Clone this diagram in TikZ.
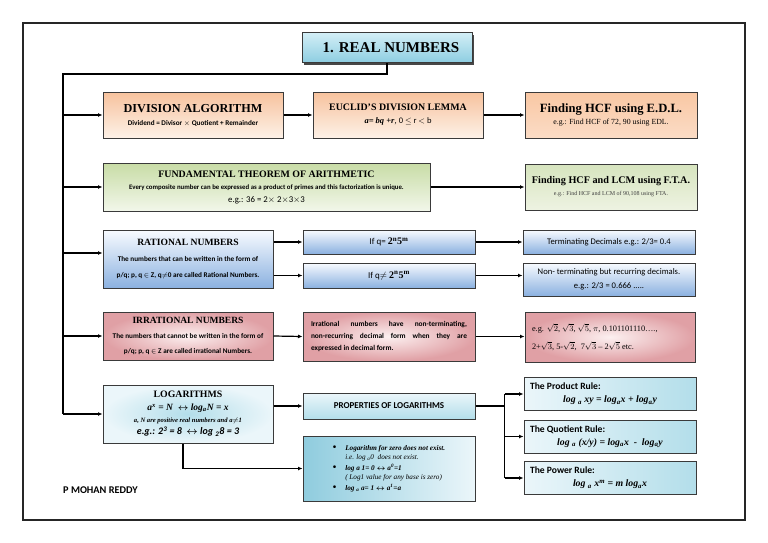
\documentclass[tikz,border=0pt]{standalone}
\usepackage{fontspec}
\setmainfont{Liberation Serif}
\newfontfamily\cb{Carlito}
\usetikzlibrary{arrows.meta,shadows,calc}
\definecolor{bord}{HTML}{3A3A3A}
\definecolor{tA}{HTML}{D2EEF6}\definecolor{tB}{HTML}{8CCDE1}
\definecolor{orA}{HTML}{F7C29D}\definecolor{orB}{HTML}{FDF1E7}
\definecolor{orC}{HTML}{F9C7A3}\definecolor{orD}{HTML}{FBDCC6}
\definecolor{grA}{HTML}{C8DCA6}\definecolor{grB}{HTML}{F2F7EA}
\definecolor{grC}{HTML}{D6E4BE}\definecolor{grD}{HTML}{EEF3E2}
\definecolor{blA}{HTML}{F8FBFF}\definecolor{blB}{HTML}{8BB1E0}
\definecolor{rdA}{HTML}{E0A0A5}\definecolor{rdB}{HTML}{FCF0F0}
\definecolor{cyA}{HTML}{EBF6FA}\definecolor{cyB}{HTML}{B3DEEA}
\definecolor{cyC}{HTML}{8FCCDE}
\newcommand\fsz[2]{\fontsize{#1}{#2}\selectfont}
\begin{document}
\begin{tikzpicture}[x=1pt,y=-1pt,
  box/.style={draw=bord,line width=1pt,inner sep=0pt,align=center},
  orbox/.style={box,top color=orA,bottom color=orB},
  grbox/.style={box,top color=grA,bottom color=grB},
  blbox/.style={box,top color=blA,bottom color=blB},
  rdbox/.style={box,inner color=rdB,outer color=rdA},
  cybox/.style={box,left color=cyA,right color=cyB},
  arr/.style={draw=black,line width=1.2pt,-{Latex[length=4.5pt,width=4pt]}},
  ln/.style={draw=black,line width=1.2pt}]
\useasboundingbox (0,0) rectangle (768,543);
\draw[line width=1.4pt,draw=black!85] (23,23) rectangle (745,520);

% title
\node[box,top color=tA,bottom color=tB,drop shadow={shadow xshift=1.6pt,shadow yshift=-1.6pt,fill=black!80,opacity=0.9},
  minimum width=170,minimum height=30] (title) at (387,48) {\bfseries\fsz{15}{18}\hspace{8pt}1. REAL NUMBERS};

% row 1
\node[orbox,minimum width=180,minimum height=46] (div) at (193,115)
 {{\bfseries\fsz{12.2}{14}DIVISION ALGORITHM}\\[1pt]{\cb\bfseries\fsz{7.2}{9}Dividend = Divisor $\times$ Quotient + Remainder}};
\node[orbox,minimum width=170,minimum height=46] (euc) at (398,115)
 {{\bfseries\fsz{9.9}{12}EUCLID'S DIVISION LEMMA}\\[1pt]{\fsz{8.5}{10}\textbf{\textit{a= bq +r}}, {\cb 0 $\le$ r $<$ b}}};
\node[box,top color=orC,bottom color=orD,minimum width=172,minimum height=46] (hcf) at (611,115)
 {{\bfseries\fsz{12.6}{15}Finding HCF using E.D.L.}\\{\fsz{7.8}{9}e.g.: Find HCF of 72, 90 using EDL.}};

% row 2
\node[grbox,minimum width=327,minimum height=48] (fta) at (266.5,187)
 {{\bfseries\fsz{9.9}{12}FUNDAMENTAL THEOREM OF ARITHMETIC}\\[0pt]{\cb\bfseries\fsz{6.8}{8}Every composite number can be expressed as a product of primes and this factorization is unique.}\\[1pt]{\cb\fsz{8.8}{10}e.g.: 36 = 2$\times$ 2$\times$3$\times$3}};
\node[box,top color=grC,bottom color=grD,minimum width=172,minimum height=46] (hcfl) at (611,187)
 {{\bfseries\fsz{10.2}{12}Finding HCF and LCM using F.T.A.}\\{\color{black!75}\fsz{6}{7}e.g.: Find HCF and LCM of 90,108 using FTA.}};

% row 3
\node[blbox,minimum width=170,minimum height=58] (rat) at (188,259)
 {{\bfseries\fsz{9.6}{12}RATIONAL NUMBERS}\\[4pt]{\cb\bfseries\fsz{7.2}{9}The numbers that can be written in the form of}\\[4pt]{\cb\bfseries\fsz{7.2}{9}p/q; p, q $\in$ Z, q$\neq$0 are called Rational Numbers.}};
\node[blbox,minimum width=172,minimum height=24] (ifa) at (389,242)
 {\cb\fsz{9}{10}If q= {\rmfamily\bfseries\fsz{10}{10}2\textsuperscript{n}5\textsuperscript{m}}};
\node[blbox,minimum width=172,minimum height=25] (ifb) at (389,275.5)
 {\cb\fsz{9}{10}If q$\neq$ {\rmfamily\bfseries\fsz{10}{10}2\textsuperscript{n}5\textsuperscript{m}}};
\node[blbox,minimum width=172,minimum height=24] (term) at (609,242)
 {\cb\fsz{8.6}{10}Terminating Decimals e.g.: 2/3= 0.4};
\node[blbox,minimum width=172,minimum height=33] (nont) at (609,279.5)
 {{\cb\fsz{8.6}{10}Non- terminating but recurring decimals.}\\[2pt]{\cb\fsz{8.6}{10}e.g.: 2/3 = 0.666 .....}};

% row 4
\node[rdbox,minimum width=170,minimum height=48] (irr) at (188,336)
 {{\bfseries\fsz{9.5}{12}IRRATIONAL NUMBERS}\\[3pt]{\cb\bfseries\fsz{7.2}{9}The numbers that cannot be written in the form of}\\[3pt]{\cb\bfseries\fsz{7.2}{9}p/q; p, q $\in$ Z are called irrational Numbers.}};
\node[rdbox,minimum width=172,minimum height=49] (desc) at (389,336.5)
 {\parbox{156pt}{\cb\bfseries\fsz{7.4}{12}Irrational numbers have non-terminating,\linebreak non-recurring decimal form when they are\linebreak expressed in decimal form.}};
\node[rdbox,minimum width=170,minimum height=50] (ex) at (610,337)
 {\parbox{156pt}{\fsz{8.3}{10}e.g. $\sqrt{2}$, $\sqrt{3}$, $\sqrt{5}$, $\pi$, 0.101101110\dots.,\\[8pt]2+$\sqrt{3}$, 5-$\sqrt{2}$,\ \ 7$\sqrt{3}$ -- 2$\sqrt{5}$ etc.}};

% row 5
\node[box,inner color=cyB,outer color=cyA,minimum width=170,minimum height=58] (log) at (188,414)
 {{\bfseries\fsz{9.8}{11}LOGARITHMS}\\[1pt]{\bfseries\itshape\fsz{9.5}{11}a\textsuperscript{x} = N \ {\boldmath$\leftrightarrow$}\ log\textsubscript{a}N = x}\\[0pt]{\bfseries\itshape\fsz{6.6}{8}a, N are positive real numbers and a$\neq$1}\\[0pt]{\cb\bfseries\itshape\fsz{10}{11}e.g.: 2\textsuperscript{3} = 8 \ {\boldmath$\leftrightarrow$} log \textsubscript{2}8 = 3}};
\node[box,top color=cyA,bottom color=cyB,minimum width=172,minimum height=26] (prop) at (389,406)
 {\cb\bfseries\fsz{9}{10}PROPERTIES OF LOGARITHMS};
\node[box,left color=cyC,right color=cyA,minimum width=172,minimum height=65,align=left] (bul) at (389,468.5)
 {\bfseries\itshape\fsz{7.2}{9}\begin{tabular}{@{}c@{\hspace{9pt}}l@{}}
 {\upshape\fsz{10}{9}\textbullet} & Logarithm for zero does not exist.\\
  & {\mdseries i.e. log \textsubscript{a}0\ \ does not exist.}\\[2pt]
 {\upshape\fsz{10}{9}\textbullet} & log a 1= 0 {\boldmath$\leftrightarrow$} a\textsuperscript{0}=1\\
  & {\mdseries ( Log1 value for any base is zero)}\\[2pt]
 {\upshape\fsz{10}{9}\textbullet} & log \textsubscript{a} a= 1 {\boldmath$\leftrightarrow$} a\textsuperscript{1}=a
 \end{tabular}};
\node[cybox,minimum width=172,minimum height=33,align=left] (prod) at (610,394)
 {\parbox{160pt}{{\cb\bfseries\fsz{9.6}{11}The Product Rule:}\\[1pt]\makebox[160pt]{\bfseries\itshape\fsz{9.8}{11}log \textsubscript{a} xy = log\textsubscript{a}x + log\textsubscript{a}y}}};
\node[cybox,minimum width=172,minimum height=33,align=left] (quo) at (610,436.5)
 {\parbox{160pt}{{\cb\bfseries\fsz{9.6}{11}The Quotient Rule:}\\[1pt]\makebox[160pt]{\bfseries\itshape\fsz{9.8}{11}log \textsubscript{a} (x/y) = log\textsubscript{a}x \ - \ log\textsubscript{a}y}}};
\node[cybox,minimum width=172,minimum height=33,align=left] (pow) at (610,478)
 {\parbox{160pt}{{\cb\bfseries\fsz{9.6}{11}The Power Rule:}\\[1pt]\makebox[160pt]{\bfseries\itshape\fsz{9.8}{11}log \textsubscript{a} x\textsuperscript{m} = m log\textsubscript{a}x}}};

\node[font=\cb\bfseries\fsz{10.3}{11},anchor=west,inner sep=0pt] (mohan) at (63,490) {P MOHAN REDDY};

% trunk
\coordinate (tk) at (63,74);
\draw[ln] (title.south) |- (tk) -- (tk |- log.west);
\draw[arr] (tk |- div.west) -- (div.west);
\draw[arr] (tk |- fta.west) -- (fta.west);
\draw[arr] ($(tk |- rat.west)+(0,-6)$) -- ($(rat.west)+(0,-6)$);
\draw[arr] (tk |- irr.west) -- (irr.west);
\draw[arr] (tk |- log.west) -- (log.west);

% connectors
\draw[arr] (div.east) -- (euc.west);
\draw[arr] (euc.east) -- (hcf.west);
\draw[arr] (fta.east |- hcfl.west) -- (hcfl.west);
\draw[arr] (rat.east |- ifa.west) -- (ifa.west);
\draw[arr] (rat.east |- ifb.west) -- (ifb.west);
\draw[arr] (ifa.east) -- (term.west |- ifa.east);
\draw[arr] (ifb.east) -- (nont.west |- ifb.east);
\draw[arr] (irr.east) -- (desc.west);
\draw[arr] (desc.east) -- (ex.west |- desc.east);
\draw[arr] (log.east |- prop.west) -- (prop.west);
\draw[arr] ($(log.south)+(-5,0)$) |- (bul.west);
\coordinate (br) at ($(prop.east)+(29,0)$);
\draw[ln] (prop.east) -- (br);
\draw[ln] (br |- prod.west) -- (br |- pow.west);
\draw[arr] (br |- prod.west) -- (prod.west);
\draw[arr] (br |- quo.west) -- (quo.west);
\draw[arr] (br |- pow.west) -- (pow.west);
\end{tikzpicture}
\end{document}
